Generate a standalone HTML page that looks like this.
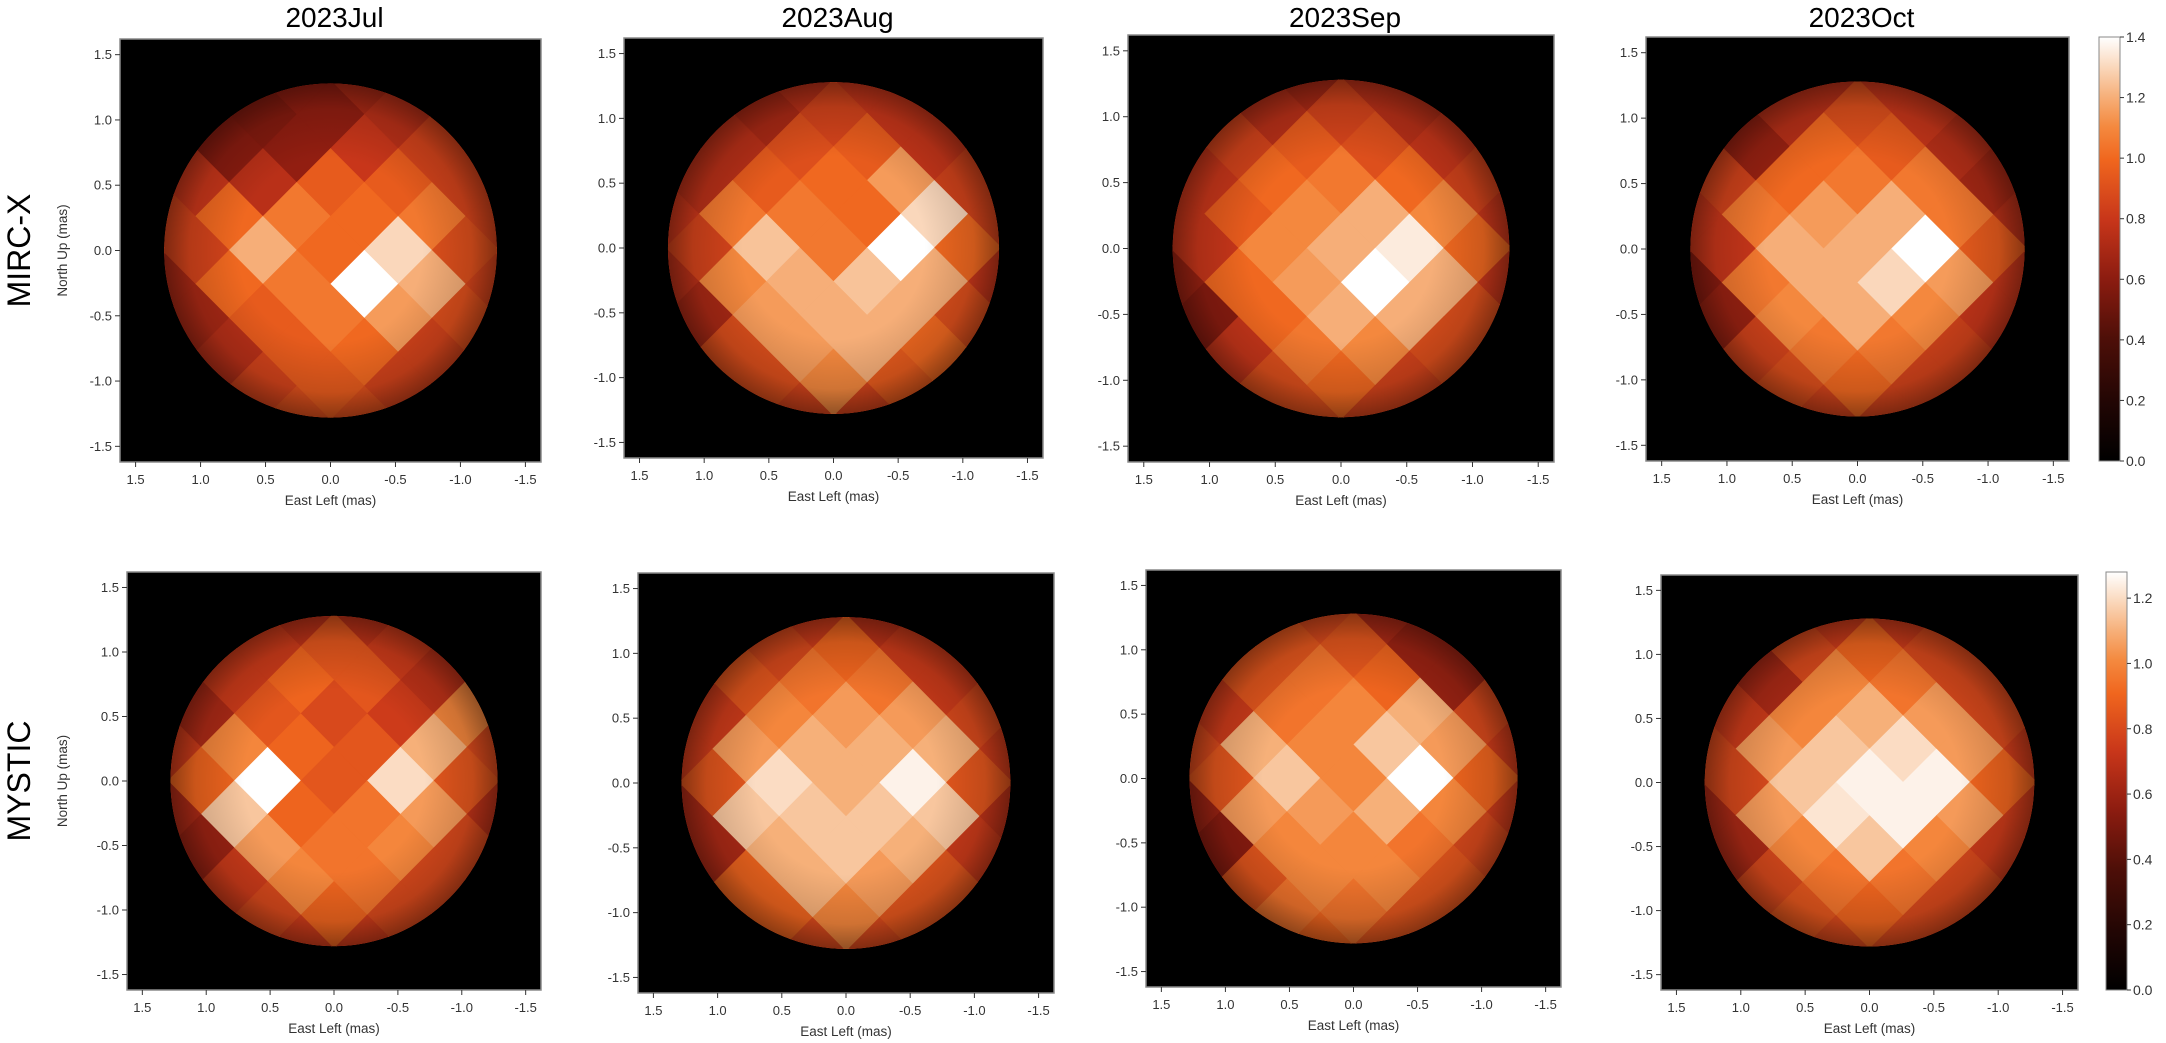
<!DOCTYPE html>
<html><head><meta charset="utf-8"><style>
html,body{margin:0;padding:0;background:#fff;}
svg{display:block;font-family:"Liberation Sans",sans-serif;}
</style></head><body>
<svg id="fig" width="2166" height="1043" viewBox="0 0 2166 1043" xmlns="http://www.w3.org/2000/svg">
<defs>
<radialGradient id="limb" cx="50%" cy="50%" r="50%">
<stop offset="0.55" stop-color="#000" stop-opacity="0"/>
<stop offset="0.85" stop-color="#000" stop-opacity="0.15"/>
<stop offset="1" stop-color="#000" stop-opacity="0.4"/>
</radialGradient>
<linearGradient id="cmap" x1="0" y1="1" x2="0" y2="0">
<stop offset="0" stop-color="#000000"/><stop offset="0.14" stop-color="#220604"/>
<stop offset="0.29" stop-color="#4e0f08"/><stop offset="0.43" stop-color="#8c1c10"/>
<stop offset="0.57" stop-color="#c8361a"/><stop offset="0.71" stop-color="#f0661e"/>
<stop offset="0.79" stop-color="#f48a40"/><stop offset="0.86" stop-color="#f6b07a"/>
<stop offset="0.93" stop-color="#fad8bc"/><stop offset="1" stop-color="#ffffff"/>
</linearGradient>
</defs>
<g id="root"></g>
</svg>
<script>
// ---- data ----
const titles = ["2023Jul","2023Aug","2023Sep","2023Oct"];
const rowLabels = ["MIRC-X","MYSTIC"];
const axisTicks = [1.5,1.0,0.5,0.0,-0.5,-1.0,-1.5];
const cbTicksTop = [0.0,0.2,0.4,0.6,0.8,1.0,1.2,1.4];
const cbTicksBottom = [0.0,0.2,0.4,0.6,0.8,1.0,1.2];
const vmaxTop = 1.4;
const vmaxBottom = 1.28;
const diskRadius = 1.28;
// intensity rows (top to bottom), screen left to right; odd rows 6 cells, even rows 5
const mircJul = [[0.6,0.6,0.62,0.7,0.7,0.6],[0.6,0.58,0.62,0.75,0.75],[0.75,0.6,0.62,0.8,0.85,0.8],[0.8,0.75,0.95,0.95,0.85],[0.85,1.0,1.05,1.0,1.05,0.85],[0.85,1.2,1.0,1.3,0.9],[0.7,1.0,1.05,1.4,1.2,0.85],[0.7,0.95,1.05,1.15,0.9],[0.65,0.75,0.95,1.0,0.85,0.75],[0.7,0.85,0.95,0.85,0.75],[0.7,0.75,0.9,0.9,0.75,0.7]];
const mircAug = [[0.6,0.65,0.75,0.8,0.7,0.6],[0.6,0.7,0.85,0.8,0.7],[0.65,0.75,0.9,0.95,0.8,0.7],[0.75,0.95,1.0,1.15,0.85],[0.8,1.05,1.05,1.0,1.3,0.85],[0.85,1.25,1.05,1.4,1.0],[0.75,1.1,1.2,1.25,1.2,0.8],[0.7,1.15,1.2,1.2,0.9],[0.6,0.9,1.15,1.2,1.0,0.7],[0.65,0.9,1.1,0.95,0.75],[0.6,0.7,0.85,0.85,0.7,0.65]];
const mircSep = [[0.65,0.65,0.7,0.75,0.7,0.65],[0.65,0.75,0.85,0.75,0.7],[0.7,0.85,0.95,0.9,0.8,0.7],[0.8,1.0,1.05,1.0,0.85],[0.8,0.95,1.1,1.2,1.1,0.8],[0.8,1.1,1.2,1.35,1.0],[0.65,1.0,1.15,1.4,1.2,0.8],[0.6,1.0,1.2,1.2,0.9],[0.6,0.8,1.05,1.1,0.9,0.7],[0.7,0.9,1.0,0.85,0.75],[0.7,0.8,0.9,0.85,0.75,0.7]];
const mircOct = [[0.6,0.6,0.75,0.8,0.7,0.65],[0.6,0.75,0.9,0.8,0.7],[0.7,0.65,1.0,0.95,0.75,0.65],[0.85,1.0,1.05,1.05,0.7],[0.8,1.05,1.15,1.2,1.05,0.75],[0.8,1.2,1.2,1.4,0.95],[0.6,1.05,1.2,1.3,1.15,0.8],[0.65,1.1,1.2,1.1,0.8],[0.6,0.85,1.05,1.05,0.85,0.7],[0.7,0.9,1.0,0.85,0.75],[0.7,0.75,0.85,0.85,0.75,0.7]];
const mysticJul = [[0.55,0.6,0.7,0.7,0.6,0.55],[0.6,0.75,0.85,0.75,0.65],[0.6,0.75,0.9,0.85,0.7,0.6],[0.65,0.85,0.8,0.75,1.0],[0.75,1.0,0.9,0.85,1.1,0.8],[0.9,1.28,0.85,1.2,0.85],[0.65,1.15,0.9,0.95,1.05,0.7],[0.6,1.05,0.95,1.0,0.8],[0.5,0.75,1.0,0.95,0.8,0.6],[0.55,0.8,0.9,0.8,0.6],[0.55,0.65,0.75,0.75,0.65,0.55]];
const mysticAug = [[0.55,0.6,0.75,0.7,0.6,0.55],[0.6,0.8,0.9,0.75,0.65],[0.6,0.85,0.95,0.95,0.75,0.6],[0.75,1.0,1.05,1.05,0.8],[0.75,1.05,1.1,1.1,1.1,0.75],[0.85,1.2,1.1,1.25,0.85],[0.65,1.15,1.15,1.15,1.15,0.7],[0.65,1.1,1.15,1.1,0.75],[0.55,0.9,1.1,1.05,0.85,0.6],[0.6,0.9,1.0,0.85,0.65],[0.55,0.65,0.8,0.8,0.65,0.55]];
const mysticSep = [[0.6,0.65,0.8,0.65,0.6,0.55],[0.65,0.85,0.85,0.6,0.6],[0.65,0.85,0.95,0.9,0.6,0.6],[0.75,0.95,1.0,1.1,0.8],[0.8,1.1,1.0,1.15,1.05,0.75],[0.85,1.15,1.0,1.28,0.9],[0.6,1.05,1.05,1.1,1.0,0.75],[0.55,1.0,1.0,0.95,0.8],[0.5,0.85,1.0,1.0,0.85,0.65],[0.6,0.95,0.95,0.85,0.65],[0.6,0.85,0.9,0.85,0.7,0.6]];
const mysticOct = [[0.55,0.6,0.75,0.75,0.65,0.55],[0.55,0.8,0.9,0.8,0.7],[0.6,0.65,1.0,0.95,0.8,0.65],[0.75,1.0,1.1,1.05,0.8],[0.8,1.05,1.15,1.2,1.05,0.75],[0.8,1.15,1.25,1.25,0.9],[0.65,1.05,1.22,1.25,1.05,0.75],[0.65,1.0,1.15,1.0,0.75],[0.55,0.8,0.95,0.95,0.8,0.65],[0.6,0.85,0.9,0.8,0.7],[0.6,0.7,0.8,0.8,0.7,0.6]];
const panelData = [mircJul,mircAug,mircSep,mircOct,mysticJul,mysticAug,mysticSep,mysticOct];

// ---- layout ----
const panels = [[120,39,541,462],[624,38,1043,458],[1128,35,1554,462],[1646,37,2069,461],
                [127,572,541,990],[638,573,1054,993],[1146,570,1561,987],[1661,575,2078,990]];
const cbars = [[2099,37,2120,461],[2106,572,2127,990]];
const SPAN = 3.24, H = 0.26;
const NS = "http://www.w3.org/2000/svg";
const root = document.getElementById('root');
function mk(tag, attrs, parent){const e=document.createElementNS(NS,tag);for(const k in attrs)e.setAttribute(k,attrs[k]);(parent||root).appendChild(e);return e;}
const stops=[[0,[0,0,0]],[0.14,[34,6,4]],[0.29,[78,15,8]],[0.43,[140,28,16]],[0.57,[200,54,26]],[0.71,[240,102,30]],[0.79,[244,138,64]],[0.86,[246,176,122]],[0.93,[250,216,188]],[1,[255,255,255]]];
function cmap(t){t=Math.max(0,Math.min(1,t));for(let i=1;i<stops.length;i++){if(t<=stops[i][0]){const a=stops[i-1],b=stops[i],f=(t-a[0])/(b[0]-a[0]);const c=a[1].map((v,k)=>Math.round(v+(b[1][k]-v)*f));return `rgb(${c[0]},${c[1]},${c[2]})`;}}return '#fff';}

panels.forEach((p,pi)=>{
  const [x0,y0,x1,y1]=p, w=x1-x0, h=y1-y0, cx=(x0+x1)/2, cy=(y0+y1)/2;
  const sx=w/SPAN, sy=h/SPAN;
  const X=v=>cx - v*sx;
  const Y=v=>cy - v*sy;
  const row = pi<4?0:1, vmax = row===0?vmaxTop:vmaxBottom;
  const g = mk('g',{});
  
  
  const bg = mk('rect',{x:x0,y:y0,width:w,height:h,fill:'#000',stroke:'#8a8a8a','stroke-width':1.5},g);
  
  
  const cid='clip'+pi;
  const cp=mk('clipPath',{id:cid},g);
  mk('ellipse',{cx:cx,cy:cy,rx:diskRadius*sx,ry:diskRadius*sy},cp);
  const disk=mk('g',{'clip-path':`url(#${cid})`},g);
  
  
  mk('rect',{x:x0,y:y0,width:w,height:h,fill:cmap(0.6/vmax)},disk);
  const data=panelData[pi];
  data.forEach((vals,ri)=>{
    const b=5-ri;
    const n=vals.length;
    vals.forEach((v,ci)=>{
      const a = (n===6) ? (-5+2*ci) : (-4+2*ci);
      const ex = -a*H;
      const ny = b*H;
      const pts=[[X(ex),Y(ny+H)],[X(ex-H),Y(ny)],[X(ex),Y(ny-H)],[X(ex+H),Y(ny)]].map(q=>q[0].toFixed(1)+','+q[1].toFixed(1)).join(' ');
      const poly=mk('polygon',{points:pts,fill:cmap(v/vmax),stroke:cmap(v/vmax),'stroke-width':0.8},disk);
      
      
    });
  });
  mk('ellipse',{cx:cx,cy:cy,rx:diskRadius*sx,ry:diskRadius*sy,fill:'url(#limb)'},disk);
  axisTicks.forEach(t=>{
    mk('line',{x1:X(t),x2:X(t),y1:y1,y2:y1+5,stroke:'#333','stroke-width':1},g);
    const tx=mk('text',{x:X(t),y:y1+22,'font-size':13,fill:'#333','text-anchor':'middle'},g);
    tx.textContent=t.toFixed(1);
    
    
    mk('line',{x1:x0-5,x2:x0,y1:Y(t),y2:Y(t),stroke:'#333','stroke-width':1},g);
    const ty=mk('text',{x:x0-8,y:Y(t)+4.5,'font-size':13,fill:'#333','text-anchor':'end'},g);
    ty.textContent=t.toFixed(1);
    
    
  });
  const xl=mk('text',{x:cx,y:y1+43,'font-size':13.5,fill:'#333','text-anchor':'middle'},g);
  xl.textContent='East Left (mas)';
  
  
  if(pi%4===0){
    const yl=mk('text',{x:0,y:0,'font-size':13.5,fill:'#333','text-anchor':'middle',transform:`translate(67,${cy}) rotate(-90)`},g);
    yl.textContent='North Up (mas)';
    
    
    const rl=mk('text',{x:0,y:0,'font-size':32,fill:'#000','text-anchor':'middle',transform:`translate(30,${cy}) rotate(-90)`},g);
    rl.textContent=rowLabels[row];
    
    
  }
  if(row===0){
    const tt=mk('text',{x:cx+4,y:27,'font-size':28,fill:'#000','text-anchor':'middle'},g);
    tt.textContent=titles[pi];
    
    
  }
});

cbars.forEach((c,ci)=>{
  const [x0,y0,x1,y1]=c, vmax=ci===0?vmaxTop:vmaxBottom, ticks=ci===0?cbTicksTop:cbTicksBottom;
  const g=mk('g',{});
  
  
  mk('rect',{x:x0,y:y0,width:x1-x0,height:y1-y0,fill:'url(#cmap)',stroke:'#888','stroke-width':1},g);
  ticks.forEach(t=>{
    const y=y1-(t/vmax)*(y1-y0);
    mk('line',{x1:x1,x2:x1+4,y1:y,y2:y,stroke:'#333','stroke-width':1},g);
    const tx=mk('text',{x:x1+6,y:y+5,'font-size':14,fill:'#333'},g);
    tx.textContent=t.toFixed(1);
    
    
  });
});
</script>
</body></html>
